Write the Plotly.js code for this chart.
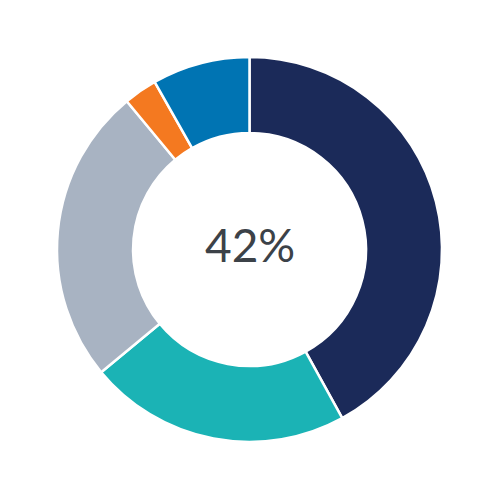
<!DOCTYPE html>
<html>
<head>
<meta charset="utf-8">
<script src="https://cdn.plot.ly/plotly-3.0.1.min.js"></script>
<style>
  html, body { margin: 0; padding: 0; background: #fff; }
  #chart { width: 500px; height: 500px; }
</style>
</head>
<body>
<div id="chart"></div>
<script>
var labels = ['Navy', 'Teal', 'Grey', 'Orange', 'Blue'];
var values = [42, 22, 25, 2.8, 8.2];
var colors = ['#1b2a59', '#1bb3b5', '#a8b3c2', '#f47920', '#0074b3'];
var centerText = '42%';

var trace = {
    type: 'pie',
    labels: labels,
    values: values,
    hole: 0.605,
    sort: false,
    direction: 'clockwise',
    rotation: 0,
    textinfo: 'none',
    hoverinfo: 'label+percent',
    marker: {
        colors: colors,
        line: {color: '#ffffff', width: 2.5}
    }
};

var layout = {
    width: 500,
    height: 500,
    margin: {t: 57, b: 58, l: 57, r: 58},
    showlegend: false,
    paper_bgcolor: '#ffffff',
    annotations: [{
        text: centerText,
        x: 0.5,
        y: 0.5,
        yshift: 5,
        xref: 'paper',
        yref: 'paper',
        showarrow: false,
        font: {family: 'Lato, "Open Sans", sans-serif', size: 46, color: '#3c4248'}
    }]
};

Plotly.newPlot('chart', [trace], layout, {staticPlot: true});
</script>
</body>
</html>
